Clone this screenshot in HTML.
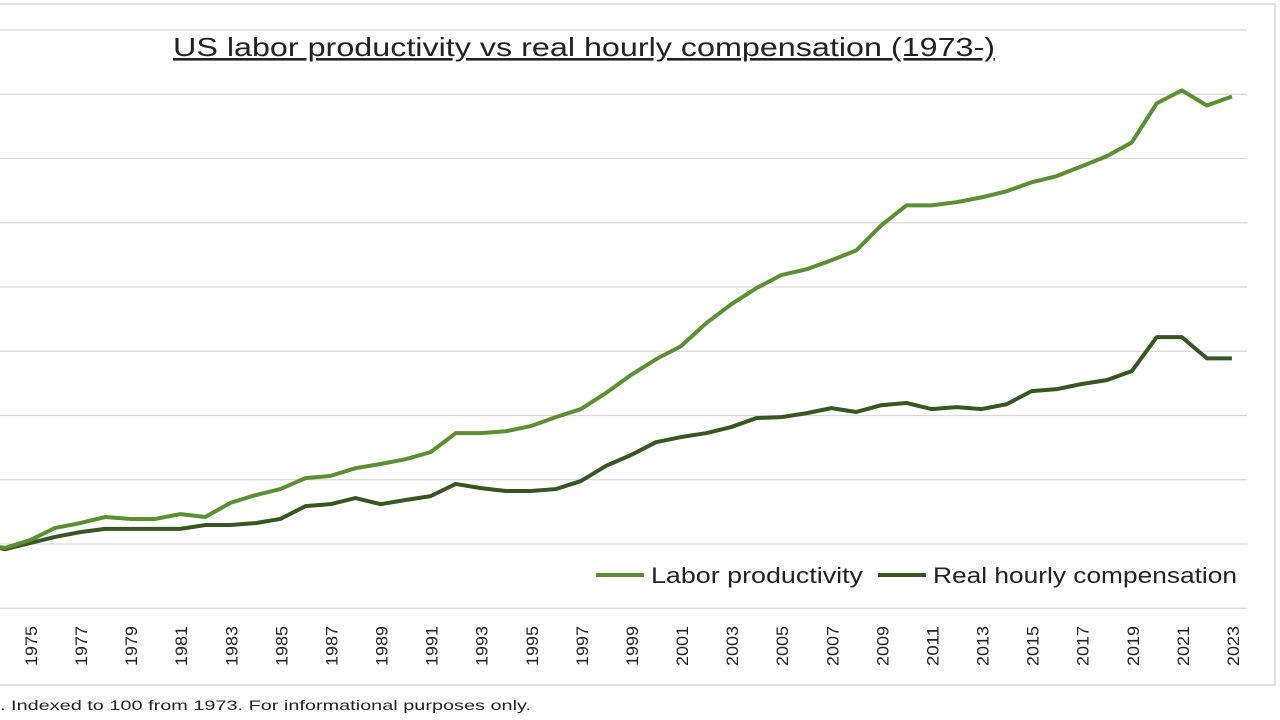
<!DOCTYPE html>
<html><head><meta charset="utf-8"><style>
html,body{margin:0;padding:0;background:#fff;width:1280px;height:720px;overflow:hidden}
svg{display:block;font-family:"Liberation Sans",sans-serif}
</style></head><body>
<svg id="chart" width="1280" height="720">
<rect x="-5" y="4" width="1280" height="681" fill="#fff" stroke="#d9d9d9" stroke-width="1.5"/>
<g id="grid"></g>
<g id="xlabels"></g>
<g id="lines"></g>
<text x="584" y="56" text-anchor="middle" font-size="26" fill="#222" text-decoration="underline" textLength="822" lengthAdjust="spacingAndGlyphs">US labor productivity vs real hourly compensation (1973-)</text>
<line x1="596" y1="575" x2="644" y2="575" stroke="#5b8f32" stroke-width="4"/>
<text x="651" y="583" font-size="22" fill="#222" textLength="212" lengthAdjust="spacingAndGlyphs">Labor productivity</text>
<line x1="878" y1="575" x2="926" y2="575" stroke="#375623" stroke-width="4"/>
<text x="933" y="583" font-size="22" fill="#222" textLength="304" lengthAdjust="spacingAndGlyphs">Real hourly compensation</text>
<text x="0" y="710" font-size="14" fill="#222" textLength="531" lengthAdjust="spacingAndGlyphs">. Indexed to 100 from 1973. For informational purposes only.</text>
</svg>
<script>
const years = [1973,1974,1975,1976,1977,1978,1979,1980,1981,1982,1983,1984,1985,1986,1987,1988,1989,1990,1991,1992,1993,1994,1995,1996,1997,1998,1999,2000,2001,2002,2003,2004,2005,2006,2007,2008,2009,2010,2011,2012,2013,2014,2015,2016,2017,2018,2019,2020,2021,2022,2023];
const productivity = [100,98.8,101.2,105.0,106.5,108.4,107.8,107.8,109.3,108.4,112.8,115.2,117.1,120.5,121.2,123.6,124.9,126.4,128.6,134.5,134.5,135.1,136.7,139.5,142.0,147.0,152.6,157.5,161.6,168.7,174.6,179.6,183.7,185.5,188.3,191.4,199.2,205.4,205.4,206.4,207.9,209.8,212.6,214.5,217.6,220.7,225.0,237.2,241.2,236.5,239.3];
const compensation = [100,98.4,100.3,102.2,103.7,104.7,104.7,104.7,104.7,105.9,105.9,106.5,107.8,111.8,112.4,114.3,112.4,113.7,114.9,118.7,117.4,116.5,116.5,117.1,119.6,124.3,127.7,131.7,133.3,134.5,136.4,139.2,139.5,140.7,142.3,141.1,143.2,143.9,142.0,142.6,142.0,143.5,147.6,148.2,149.8,151.0,153.8,164.4,164.4,157.8,157.8];
const yTicks = [80,100,120,140,160,180,200,220,240,260];

const NS = "http://www.w3.org/2000/svg";
const xScale = y => 30 + (y - 1975) * 25.04;
const yScale = v => 544 - (v - 100) * 64.25 / 20;

const grid = document.getElementById('grid');
yTicks.forEach(t => {
  const l = document.createElementNS(NS, 'line');
  l.setAttribute('x1', 0); l.setAttribute('x2', 1247);
  l.setAttribute('y1', yScale(t)); l.setAttribute('y2', yScale(t));
  l.setAttribute('stroke', '#d9d9d9'); l.setAttribute('stroke-width', '1.3');
  
  
  grid.appendChild(l);
});

const xl = document.getElementById('xlabels');
years.filter(y => y % 2 === 1 && y >= 1975).forEach(y => {
  const t = document.createElementNS(NS, 'text');
  const x = xScale(y) + 7;
  t.setAttribute('transform', `translate(${x},666) rotate(-90)`);
  t.setAttribute('font-size', '17');
  t.setAttribute('textLength', '40');
  t.setAttribute('lengthAdjust', 'spacingAndGlyphs');
  t.setAttribute('fill', '#222');
  t.textContent = y;
  
  
  xl.appendChild(t);
});

const lines = document.getElementById('lines');
function drawLine(vals, color, name) {
  const p = document.createElementNS(NS, 'polyline');
  p.setAttribute('points', vals.map((v, i) => xScale(years[i]) + ',' + yScale(v)).join(' '));
  p.setAttribute('fill', 'none');
  p.setAttribute('stroke', color);
  p.setAttribute('stroke-width', '4');
  p.setAttribute('stroke-linejoin', 'round');
  
  
  lines.appendChild(p);
}
drawLine(compensation, '#375623', 'compensation-line');
drawLine(productivity, '#5b8f32', 'productivity-line');
</script>
</body></html>
